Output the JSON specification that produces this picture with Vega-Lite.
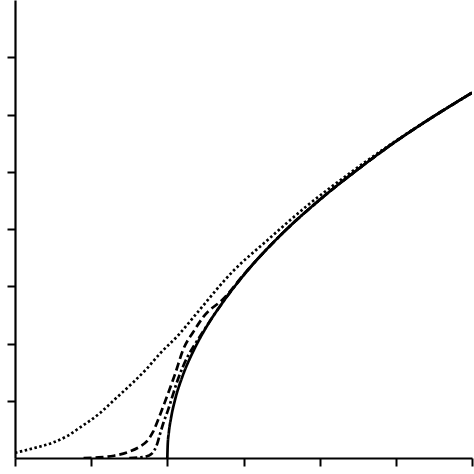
{
  "$schema": "https://vega.github.io/schema/vega-lite/v6.json",
  "width": 457,
  "height": 458,
  "autosize": "none",
  "padding": {"left": 15, "top": 0, "right": 2, "bottom": 16},
  "background": "white",
  "config": {
    "view": {"stroke": null},
    "axis": {"labels": false, "title": null, "grid": false, "domainColor": "black", "domainWidth": 2.2, "tickColor": "black", "tickWidth": 2, "tickSize": 8}
  },
  "data": {"values": [
    {"s": "solid", "x": 2.0, "y": 0},
    {"s": "solid", "x": 2.005, "y": 0.23},
    {"s": "solid", "x": 2.02, "y": 0.45},
    {"s": "solid", "x": 2.05, "y": 0.71},
    {"s": "solid", "x": 2.1, "y": 1.01},
    {"s": "solid", "x": 2.2, "y": 1.43},
    {"s": "solid", "x": 2.35, "y": 1.89},
    {"s": "solid", "x": 2.5, "y": 2.26},
    {"s": "solid", "x": 2.75, "y": 2.76},
    {"s": "solid", "x": 3.0, "y": 3.19},
    {"s": "solid", "x": 3.5, "y": 3.91},
    {"s": "solid", "x": 4.0, "y": 4.51},
    {"s": "solid", "x": 4.5, "y": 5.04},
    {"s": "solid", "x": 5.0, "y": 5.53},
    {"s": "solid", "x": 5.5, "y": 5.97},
    {"s": "solid", "x": 6.0, "y": 6.38},

    {"s": "dashed", "x": 0.9, "y": 0.0},
    {"s": "dashed", "x": 1.1, "y": 0.01},
    {"s": "dashed", "x": 1.3, "y": 0.04},
    {"s": "dashed", "x": 1.5, "y": 0.11},
    {"s": "dashed", "x": 1.64, "y": 0.2},
    {"s": "dashed", "x": 1.73, "y": 0.29},
    {"s": "dashed", "x": 1.81, "y": 0.45},
    {"s": "dashed", "x": 1.9, "y": 0.74},
    {"s": "dashed", "x": 1.96, "y": 0.95},
    {"s": "dashed", "x": 2.03, "y": 1.2},
    {"s": "dashed", "x": 2.1, "y": 1.46},
    {"s": "dashed", "x": 2.21, "y": 1.9},
    {"s": "dashed", "x": 2.35, "y": 2.22},
    {"s": "dashed", "x": 2.47, "y": 2.46},
    {"s": "dashed", "x": 2.75, "y": 2.8},
    {"s": "dashed", "x": 3.0, "y": 3.2},
    {"s": "dashed", "x": 3.5, "y": 3.91},
    {"s": "dashed", "x": 4.0, "y": 4.51},
    {"s": "dashed", "x": 4.5, "y": 5.04},
    {"s": "dashed", "x": 5.0, "y": 5.53},
    {"s": "dashed", "x": 5.5, "y": 5.97},
    {"s": "dashed", "x": 6.0, "y": 6.38},

    {"s": "dashdot", "x": 1.5, "y": 0.0},
    {"s": "dashdot", "x": 1.65, "y": 0.01},
    {"s": "dashdot", "x": 1.75, "y": 0.04},
    {"s": "dashdot", "x": 1.8, "y": 0.08},
    {"s": "dashdot", "x": 1.86, "y": 0.22},
    {"s": "dashdot", "x": 1.9, "y": 0.4},
    {"s": "dashdot", "x": 1.95, "y": 0.62},
    {"s": "dashdot", "x": 2.01, "y": 0.84},
    {"s": "dashdot", "x": 2.06, "y": 1.05},
    {"s": "dashdot", "x": 2.13, "y": 1.34},
    {"s": "dashdot", "x": 2.2, "y": 1.58},
    {"s": "dashdot", "x": 2.27, "y": 1.78},
    {"s": "dashdot", "x": 2.35, "y": 1.96},
    {"s": "dashdot", "x": 2.5, "y": 2.27},
    {"s": "dashdot", "x": 2.75, "y": 2.76},
    {"s": "dashdot", "x": 3.0, "y": 3.19},
    {"s": "dashdot", "x": 3.5, "y": 3.91},
    {"s": "dashdot", "x": 4.0, "y": 4.51},
    {"s": "dashdot", "x": 4.5, "y": 5.04},
    {"s": "dashdot", "x": 5.0, "y": 5.53},
    {"s": "dashdot", "x": 5.5, "y": 5.97},
    {"s": "dashdot", "x": 6.0, "y": 6.38},

    {"s": "dotted", "x": 0.0, "y": 0.09},
    {"s": "dotted", "x": 0.24, "y": 0.17},
    {"s": "dotted", "x": 0.5, "y": 0.27},
    {"s": "dotted", "x": 0.68, "y": 0.38},
    {"s": "dotted", "x": 0.85, "y": 0.53},
    {"s": "dotted", "x": 1.12, "y": 0.79},
    {"s": "dotted", "x": 1.29, "y": 1.0},
    {"s": "dotted", "x": 1.55, "y": 1.32},
    {"s": "dotted", "x": 1.73, "y": 1.56},
    {"s": "dotted", "x": 1.9, "y": 1.82},
    {"s": "dotted", "x": 2.14, "y": 2.14},
    {"s": "dotted", "x": 2.4, "y": 2.55},
    {"s": "dotted", "x": 2.86, "y": 3.26},
    {"s": "dotted", "x": 3.31, "y": 3.8},
    {"s": "dotted", "x": 3.83, "y": 4.4},
    {"s": "dotted", "x": 4.4, "y": 4.98},
    {"s": "dotted", "x": 5.0, "y": 5.54},
    {"s": "dotted", "x": 5.5, "y": 5.97},
    {"s": "dotted", "x": 6.0, "y": 6.38}
  ]},
  "mark": {"type": "line", "color": "black", "strokeWidth": 2.7, "clip": true, "interpolate": "monotone"},
  "encoding": {
    "x": {"field": "x", "type": "quantitative", "scale": {"domain": [0, 6], "nice": false, "zero": false}, "axis": {"values": [0, 1, 2, 3, 4, 5, 6]}},
    "y": {"field": "y", "type": "quantitative", "scale": {"domain": [0, 8], "nice": false}, "axis": {"values": [1, 2, 3, 4, 5, 6, 7]}},
    "detail": {"field": "s"},
    "strokeDash": {"field": "s", "type": "nominal", "scale": {"domain": ["solid", "dashed", "dashdot", "dotted"], "range": [[1, 0], [8, 4], [8, 3, 2.5, 3], [2.5, 2.5]]}, "legend": null},
    "order": {"field": "x", "type": "quantitative"}
  }
}
